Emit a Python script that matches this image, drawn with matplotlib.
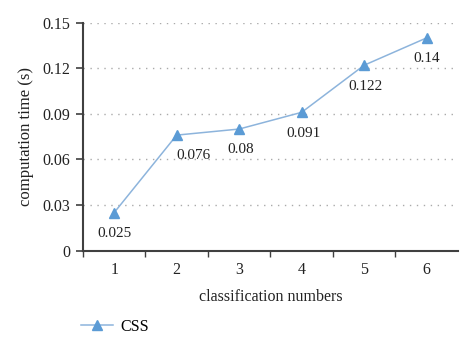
import matplotlib
matplotlib.use('Agg')
import matplotlib.pyplot as plt
from matplotlib.lines import Line2D

# dados do grafico
categorias = ['1', '2', '3', '4', '5', '6']
tempo_css = [0.025, 0.076, 0.08, 0.091, 0.122, 0.14]
rotulos = ['0.025', '0.076', '0.08', '0.091', '0.122', '0.14']
yticks = [0, 0.03, 0.06, 0.09, 0.12, 0.15]
yticklabels = ['0', '0.03', '0.06', '0.09', '0.12', '0.15']

plt.rcParams['font.family'] = ['Liberation Serif', 'DejaVu Serif']

azul = '#5b9bd5'
linha = '#8db4dc'
cinza = '#404040'

fig = plt.figure(figsize=(4.74, 3.49), dpi=100)
ax = fig.add_axes([0.175, 0.282, 0.791, 0.653])

x = list(range(len(categorias)))
ax.plot(x, tempo_css, color=linha, lw=1.1, marker='^', markersize=7,
        markerfacecolor=azul, markeredgecolor=azul, zorder=3)

# rotulos abaixo dos pontos
desloc_x = [0, 12, 1, 1, 1, 0]
for i, v in enumerate(tempo_css):
    ax.annotate(rotulos[i], (x[i], v), xytext=(desloc_x[i], -15),
                textcoords='offset points', ha='center', va='center',
                fontsize=11, color='#222222')

ax.set_xlim(-0.5, len(categorias) - 0.5)
ax.set_ylim(0, 0.15)

ax.set_yticks(yticks)
ax.set_yticklabels(yticklabels, fontsize=11.5, color='#222222')
ax.yaxis.grid(True, linestyle=(0, (1, 4)), color='#aaaaaa', lw=1)
ax.set_axisbelow(True)

# ticks nas divisas das categorias
ax.set_xticks([i - 0.5 for i in x])
ax.set_xticklabels([])
ax.set_xticks(x, minor=True)
ax.set_xticklabels(categorias, minor=True, fontsize=11.5, color='#222222')
ax.tick_params(axis='x', which='major', direction='out', length=4, width=1, color=cinza)
ax.tick_params(axis='x', which='minor', length=0, pad=8)
ax.tick_params(axis='y', direction='out', length=5, width=1.2, color=cinza, pad=4)

for s in ['top', 'right']:
    ax.spines[s].set_visible(False)
for s in ['left', 'bottom']:
    ax.spines[s].set_color(cinza)
    ax.spines[s].set_linewidth(1.5)

ax.set_ylabel('computation time (s)', fontsize=12, color='#222222', labelpad=6)
ax.set_xlabel('classification numbers', fontsize=11.5, color='#222222', labelpad=8)

h = Line2D([], [], color=linha, lw=1.1, marker='^', markersize=7,
           markerfacecolor=azul, markeredgecolor=azul)
fig.legend([h], ['CSS'], loc='center left', bbox_to_anchor=(0.14, 0.063),
           frameon=False, fontsize=11.5, handlelength=2.0, handletextpad=0.5)

fig.savefig('out.png', dpi=100)
